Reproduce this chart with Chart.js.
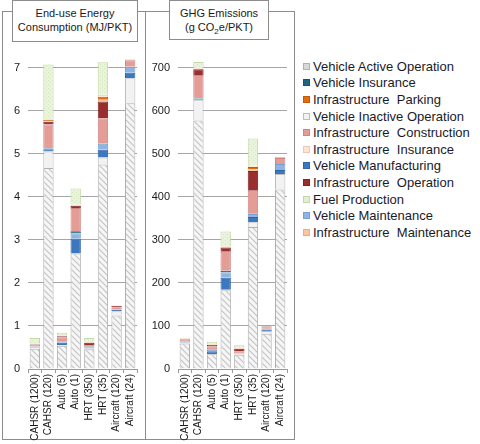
<!DOCTYPE html>
<html>
<head>
<meta charset="utf-8">
<script src="https://cdn.jsdelivr.net/npm/chart.js@4.4.1/dist/chart.umd.min.js"></script>
<style>
  body { margin:0; background:#fff; font-family:"Liberation Sans", Arial, sans-serif; }
  #wrap { position:relative; width:480px; height:444px; overflow:hidden; }
  .frame { position:absolute; border:1px solid #8c8c8c; box-sizing:border-box; }
  .tbox { position:absolute; border:1px solid #8c8c8c; background:#fff; box-sizing:border-box;
          text-align:center; font-size:11px; line-height:14px; color:#1a1a1a; padding-top:5px; }
  canvas { position:absolute; }
  #legend { position:absolute; left:303px; top:58px; }
  .li { height:16.6px; display:flex; align-items:center; font-size:13px; color:#1a1a2a; white-space:pre; }
  .sw { width:7px; height:7px; margin-right:3px; box-sizing:border-box; border:1px solid #999; flex:none; }
</style>
</head>
<body>
<div id="wrap">
  <div class="frame" style="left:2px;top:11px;width:144px;height:429px;"></div>
  <div class="frame" style="left:145px;top:11px;width:150px;height:429px;"></div>
  <canvas id="c1" width="145" height="444" style="left:0;top:0;"></canvas>
  <canvas id="c2" width="150" height="444" style="left:145px;top:0;"></canvas>
  <div class="tbox" style="left:12px;top:0px;width:126px;height:42px;">End-use Energy<br>Consumption (MJ/PKT)</div>
  <div class="tbox" style="left:169px;top:0px;width:100px;height:40px;">GHG Emissions<br>(g CO<sub style="font-size:8px;line-height:0;">2</sub>e/PKT)</div>
  <div id="legend"></div>
</div>
<script>
// ---------- DATA ----------
const categories = ['CAHSR (1200)','CAHSR (120)','Auto (5)','Auto (1)','HRT (350)','HRT (35)','Aircraft (120)','Aircraft (24)'];

const seriesNames = ['Vehicle Active Operation','Vehicle Inactive Operation','Vehicle Manufacturing','Vehicle Maintenance','Vehicle Insurance','Infrastructure  Construction','Infrastructure  Operation','Infrastructure  Maintenance','Infrastructure  Parking','Infrastructure  Insurance','Fuel Production'];
const legendOrder = [0,4,8,1,5,9,2,6,10,3,7];

// End-use energy (MJ/PKT)
const activeE      = [0.47, 4.67, 0.54, 2.68, 0.46, 4.75, 1.24, 6.17];
const inactiveE    = [0.03, 0.38, 0.01, 0.00, 0.02, 0.16, 0.10, 0.58];
const manufE       = [0.01, 0.05, 0.06, 0.35, 0.02, 0.18, 0.03, 0.13];
const maintE       = [0.01, 0.02, 0.03, 0.12, 0.01, 0.14, 0.02, 0.14];
const insurE       = [0.005,0.01, 0.01, 0.05, 0.01, 0.01, 0.005,0.00];
const constrE      = [0.04, 0.55, 0.09, 0.54, 0.04, 0.58, 0.04, 0.15];
const operE        = [0.01, 0.06, 0.02, 0.05, 0.05, 0.39, 0.03, 0.01];
const infraMaintE  = [0.005,0.02, 0.01, 0.01, 0.01, 0.04, 0.005,0.00];
const parkingE     = [0.005,0.02, 0.01, 0.01, 0.01, 0.07, 0.005,0.00];
const infraInsE    = [0.005,0.02, 0.01, 0.01, 0.01, 0.05, 0.005,0.01];
const fuelE        = [0.13, 1.27, 0.05, 0.37, 0.08, 0.75, 0.00, 0.00];

// GHG emissions (g CO2e/PKT)
const activeG      = [59, 577, 34, 183, 33, 330, 82, 417];
const inactiveG    = [2, 48, 1, 1, 1, 11, 6, 36];
const manufG       = [1, 2, 6, 28, 1.5, 12, 3, 9];
const maintG       = [1, 1, 3, 12, 1, 7, 2, 14];
const insurG       = [0.5, 1, 1, 4, 0.5, 1, 0.5, 0];
const constrG      = [5, 52, 8, 44, 4, 53, 3, 14];
const operG        = [2, 15, 3, 10, 6, 46, 2, 1];
const infraMaintG  = [0.5, 1, 1, 1, 0.5, 3, 0.5, 0];
const parkingG     = [0.5, 1, 0.5, 1, 0.5, 6, 0, 0];
const infraInsG    = [0.5, 1, 0.5, 1, 0.5, 3, 0, 1];
const fuelG        = [0, 14, 5, 34, 6.5, 63, 0, 0];

const energyTicks = [0,1,2,3,4,5,6,7];
const ghgTicks = [0,100,200,300,400,500,600,700];

// ---------- STYLES ----------
function hatch() {
  const c = document.createElement('canvas'); c.width = 6; c.height = 6;
  const x = c.getContext('2d');
  x.fillStyle = '#f6f6f6'; x.fillRect(0,0,6,6);
  x.strokeStyle = '#c4c4c4'; x.lineWidth = 1.2;
  x.beginPath(); x.moveTo(-1,-1); x.lineTo(7,7); x.moveTo(-1,5); x.lineTo(1,7); x.moveTo(5,-1); x.lineTo(7,1); x.stroke();
  return x.createPattern(c,'repeat');
}
function dots() {
  const c = document.createElement('canvas'); c.width = 4; c.height = 4;
  const x = c.getContext('2d');
  x.fillStyle = '#eaf3dd'; x.fillRect(0,0,4,4);
  x.fillStyle = '#d3e6bd'; x.fillRect(0,0,1,1); x.fillRect(2,2,1,1);
  return x.createPattern(c,'repeat');
}
const fills   = [hatch(), '#f2f2f2', '#3c78c0', '#8db4e2', '#1f6680', '#e49c97', '#9a2e2e', '#fac69a', '#e46c0a', '#fde5d6', dots()];
const swatch  = ['#d8d8d8', '#f2f2f2', '#3c78c0', '#8db4e2', '#1f6680', '#e49c97', '#9a2e2e', '#fac69a', '#e46c0a', '#fde5d6', '#e2efd4'];
const borders = ['#b0b0b0', '#bdbdbd', '#2f64a6', '#7aa0cf', '#1a5468', '#d08580', '#7e2424', '#e8b080', '#c45a08', '#e8c8b8', '#c3d8a4'];

const energyData = [activeE, inactiveE, manufE, maintE, insurE, constrE, operE, infraMaintE, parkingE, infraInsE, fuelE];
const ghgData = [activeG, inactiveG, manufG, maintG, insurG, constrG, operG, infraMaintG, parkingG, infraInsG, fuelG];

function makeChart(id, data, maxV, tickVals, yWidth, padRight) {
  return new Chart(document.getElementById(id), {
    type: 'bar',
    data: {
      labels: categories,
      datasets: data.map((arr, i) => ({
        label: seriesNames[i], data: arr,
        backgroundColor: fills[i], borderColor: borders[i], borderWidth: 1,
        barPercentage: 0.76, categoryPercentage: 1.0
      }))
    },
    options: {
      responsive: false, animation: false,
      layout: { padding: { top: 46, right: padRight, left: 0, bottom: 0 } },
      plugins: { legend: { display: false }, tooltip: { enabled: false } },
      scales: {
        x: {
          stacked: true,
          grid: { display: true, drawOnChartArea: false, tickLength: 4, color: '#9a9a9a', offset: true },
          border: { display: true, color: '#9a9a9a' },
          ticks: { autoSkip: false, maxRotation: 90, minRotation: 90, padding: 1, color: '#1a1a1a', font: { family: 'Liberation Sans', size: 10 } },
          afterFit: s => { s.height = 75; }
        },
        y: {
          stacked: true, min: 0, max: maxV,
          ticks: { stepSize: tickVals[1] - tickVals[0], padding: 8, color: '#1a1a1a', font: { family: 'Liberation Sans', size: 11 } },
          afterBuildTicks: s => { s.ticks = tickVals.map(v => ({ value: v })); },
          grid: { color: '#a6a6a6', drawTicks: false },
          border: { display: false },
          afterFit: s => { s.width = yWidth; }
        }
      }
    }
  });
}
makeChart('c1', energyData, 7.5, energyTicks, 28, 8);
makeChart('c2', ghgData, 750, ghgTicks, 33, 8);

// legend
const lg = document.getElementById('legend');
legendOrder.forEach(i => {
  const d = document.createElement('div'); d.className = 'li';
  const s = document.createElement('span'); s.className = 'sw';
  s.style.background = swatch[i]; s.style.borderColor = borders[i];
  d.appendChild(s);
  d.appendChild(document.createTextNode(seriesNames[i]));
  lg.appendChild(d);
});
</script>
</body>
</html>
